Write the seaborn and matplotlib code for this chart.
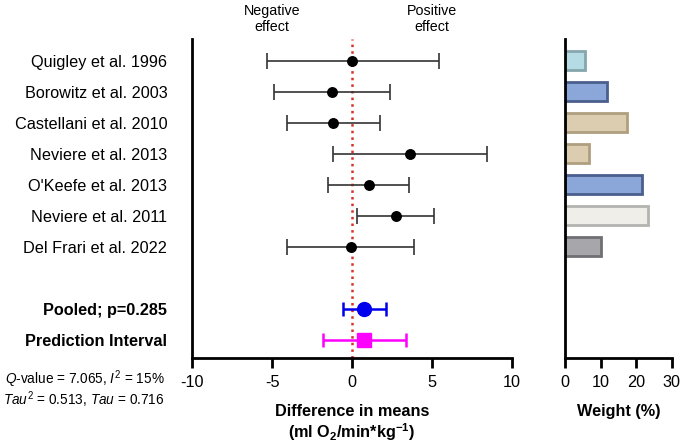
import numpy as np
import pandas as pd
import seaborn as sns
import matplotlib.pyplot as plt

# study level data
studies = ["Quigley et al. 1996", "Borowitz et al. 2003", "Castellani et al. 2010",
           "Neviere et al. 2013", "O'Keefe et al. 2013", "Neviere et al. 2011",
           "Del Frari et al. 2022"]
effect = [0.02, -1.27, -1.16, 3.63, 1.05, 2.76, -0.08]
ci_low = [-5.34, -4.90, -4.09, -1.19, -1.52, 0.31, -4.05]
ci_high = [5.43, 2.36, 1.73, 8.45, 3.57, 5.16, 3.88]
weights = [5.5, 11.8, 17.3, 6.8, 21.6, 23.3, 10.1]

# pooled estimate and prediction interval
pooled = [0.78, -0.58, 2.15]
prediction = [0.75, -1.79, 3.38]
summary_labels = ["Pooled; p=0.285", "Prediction Interval"]

bar_fill = ["#b5dbe4", "#8ba6d9", "#dccdb1", "#dccdb1", "#8ba6d9", "#efeee9", "#a6a6ab"]
bar_edge = ["#86a6ae", "#4b5f8c", "#b09f7f", "#b09f7f", "#4b5f8c", "#b3b3b0", "#6f6f74"]

sns.set_style("ticks")
plt.rcParams["font.family"] = ["Liberation Sans", "DejaVu Sans"]
plt.rcParams["axes.unicode_minus"] = False
plt.rcParams["mathtext.fontset"] = "custom"
plt.rcParams["mathtext.rm"] = "Liberation Sans"
plt.rcParams["mathtext.it"] = "Liberation Sans:italic"
plt.rcParams["mathtext.bf"] = "Liberation Sans:bold"
for key in ["text.color", "axes.labelcolor", "xtick.color", "ytick.color"]:
    plt.rcParams[key] = "black"

fs = 11.7
fig = plt.figure(figsize=(6.85, 4.48), dpi=100)
ax = fig.add_axes([0.2807, 0.2002, 0.4663, 0.7121])
ax2 = fig.add_axes([0.8248, 0.2002, 0.1558, 0.7121])

df = pd.DataFrame({"study": studies, "effect": effect, "low": ci_low,
                   "high": ci_high, "pos": np.arange(len(studies))})

# confidence intervals
ax.errorbar(df["effect"], df["pos"],
            xerr=[df["effect"] - df["low"], df["high"] - df["effect"]],
            fmt="none", ecolor="#333333", elinewidth=1.2, capsize=5.5, capthick=1.2)
sns.scatterplot(data=df, x="effect", y="pos", ax=ax, color="black", s=62,
                edgecolor="black", linewidth=0, zorder=5)

# pooled and prediction rows
ax.errorbar([pooled[0]], [8], xerr=[[pooled[0] - pooled[1]], [pooled[2] - pooled[0]]],
            fmt="o", color="#0000ee", ms=10, elinewidth=1.8, capsize=5, capthick=1.8, zorder=5)
ax.errorbar([prediction[0]], [9], xerr=[[prediction[0] - prediction[1]], [prediction[2] - prediction[0]]],
            fmt="s", color="#ff00ff", ms=10, elinewidth=1.8, capsize=5, capthick=1.8, zorder=5)

ax.axvline(0, color="#d9302a", ls=":", lw=1.8, zorder=1)

ax.set_xlim(-10, 10)
ax.set_ylim(9.6, -0.69)
ax.set_xticks([-10, -5, 0, 5, 10])
ax.set_yticks(list(range(len(studies))) + [8, 9])
ax.set_yticklabels(studies + summary_labels)
for lab in ax.get_yticklabels()[-2:]:
    lab.set_fontweight("bold")
ax.tick_params(axis="y", length=0, pad=18, labelsize=fs)
ax.tick_params(axis="x", length=7, width=2, pad=5, labelsize=fs)
sns.despine(ax=ax)
for s in ["left", "bottom"]:
    ax.spines[s].set_linewidth(2)
    ax.spines[s].set_color("black")
ax.set_xlabel("Difference in means\n(ml O$_\\mathbf{2}$/min*kg$^\\mathbf{-1}$)",
              fontsize=fs, fontweight="bold", labelpad=10, linespacing=1.15)
ax.set_ylabel("")

ax.text(-5, -0.85, "Negative\neffect", ha="center", va="bottom", fontsize=10.3,
        linespacing=1.2, clip_on=False)
ax.text(5, -0.85, "Positive\neffect", ha="center", va="bottom", fontsize=10.3,
        linespacing=1.2, clip_on=False)

# weights panel
sns.barplot(x=weights, y=studies, hue=studies, palette=bar_fill, legend=False,
            orient="h", width=0.62, ax=ax2, saturation=1)
for patch, ec in zip(ax2.patches, bar_edge):
    patch.set_edgecolor(ec)
    patch.set_linewidth(2)
ax2.set_xlim(0, 30)
ax2.set_ylim(9.6, -0.69)
ax2.set_xticks([0, 10, 20, 30])
ax2.set_yticks([])
ax2.tick_params(axis="x", length=7, width=2, pad=5, labelsize=fs)
sns.despine(ax=ax2)
for s in ["left", "bottom"]:
    ax2.spines[s].set_linewidth(2)
    ax2.spines[s].set_color("black")
ax2.set_xlabel("Weight (%)", fontsize=fs, fontweight="bold", labelpad=10)
ax2.set_ylabel("")

# heterogeneity stats
fig.text(165 / 685, 1 - 379 / 448, "$\\mathit{Q}$-value = 7.065, $\\mathit{I}^2$ = 15%",
         ha="right", va="center", fontsize=9.8)
fig.text(165 / 685, 1 - 400 / 448, "$\\mathit{Tau}^2$ = 0.513, $\\mathit{Tau}$ = 0.716",
         ha="right", va="center", fontsize=9.8)

fig.savefig("out.png", dpi=100)
